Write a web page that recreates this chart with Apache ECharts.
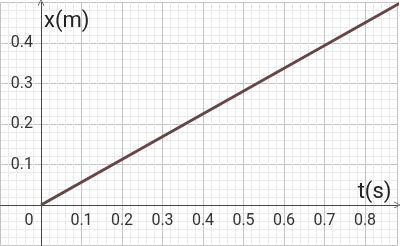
<!DOCTYPE html>
<html><head><meta charset="utf-8">
<script src="https://cdn.jsdelivr.net/npm/echarts@6/dist/echarts.min.js"></script>
<style>html,body{margin:0;padding:0;background:#fff}#c{width:400px;height:246px}</style>
</head><body><div id="c"></div>
<script>
const timeValues = [0, 0.9];
const positionValues = [0, 0.50625];
const xAxisName = 't(s)';
const yAxisName = 'x(m)';

const chevron = 'path://M0,10 L5,0 L10,10 L9,10.6 L5,2 L1,10.6 Z';
const chart = echarts.init(document.getElementById('c'), null, {renderer: 'canvas'});
const fontFamily = 'Roboto, "Liberation Sans", sans-serif';
chart.setOption({
  animation: false,
  backgroundColor: '#fff',
  grid: {left: 0.5, right: 2.6, top: 2.5, bottom: 0.5, containLabel: false, outerBoundsMode: 'none'},
  xAxis: {
    type: 'value', min: -0.1, max: 0.88, interval: 0.1,
    position: 'bottom', offset: -40.5,
    name: xAxisName, nameLocation: 'end', nameGap: -6,
    nameTextStyle: {align: 'right', verticalAlign: 'bottom', fontSize: 22, color: '#222', fontFamily, padding: [0, 0, 2, 0]},
    axisLine: {onZero: false, lineStyle: {color: '#444', width: 1}, symbol: ['none', chevron], symbolSize: [9, 7]},
    axisTick: {show: false},
    axisLabel: {
      fontSize: 16, color: '#333', fontFamily, margin: 8, showMaxLabel: false, showMinLabel: false, hideOverlap: false,
      formatter: v => v < -1e-9 ? '' : (Math.abs(v) < 1e-9 ? '{z|0}' : v.toFixed(1)),
      rich: {z: {fontSize: 16, color: '#333', fontFamily, padding: [0, 24, 0, 0]}}
    },
    splitLine: {show: true, lineStyle: {color: '#c4c4c4', width: 1}},
    minorTick: {show: false, splitNumber: 5},
    minorSplitLine: {show: true, lineStyle: {color: '#ebebeb', width: 1}}
  },
  yAxis: {
    type: 'value', min: -0.1, max: 0.5, interval: 0.1,
    position: 'left', offset: -40.5,
    name: yAxisName, nameLocation: 'end', nameGap: -30,
    nameTextStyle: {align: 'left', verticalAlign: 'bottom', fontSize: 22, color: '#222', fontFamily, padding: [0, 0, 0, 3]},
    axisLine: {onZero: false, lineStyle: {color: '#444', width: 1}, symbol: ['none', chevron], symbolSize: [9, 7]},
    axisTick: {show: false},
    axisLabel: {
      fontSize: 16, color: '#333', fontFamily, margin: 8, showMaxLabel: false, showMinLabel: false,
      formatter: v => v <= 1e-9 ? '' : v.toFixed(1)
    },
    splitLine: {show: true, lineStyle: {color: '#c4c4c4', width: 1}},
    minorTick: {show: false, splitNumber: 5},
    minorSplitLine: {show: true, lineStyle: {color: '#ebebeb', width: 1}}
  },
  series: [{
    type: 'line', clip: false, symbol: 'none',
    data: timeValues.map((t, i) => [t, positionValues[i]]),
    lineStyle: {color: '#654545', width: 3}
  }]
});
</script></body></html>
